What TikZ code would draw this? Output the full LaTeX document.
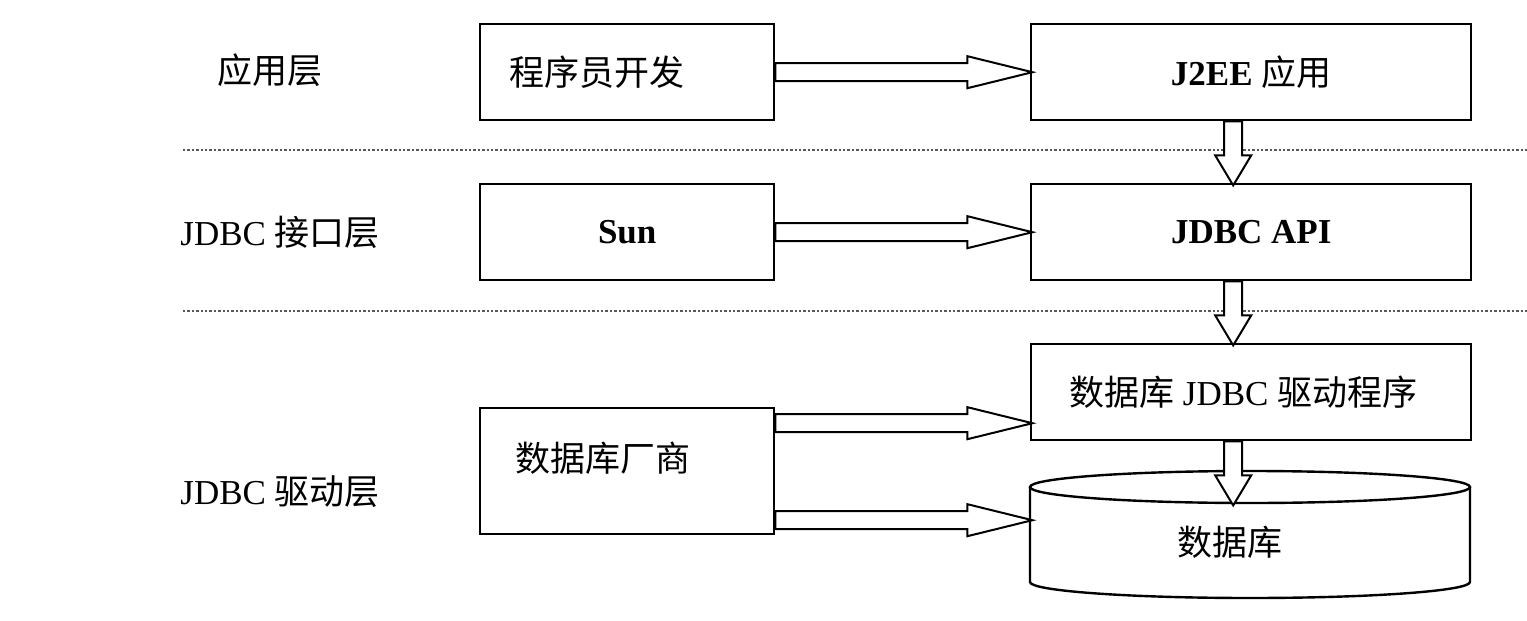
\documentclass[tikz,border=0pt]{standalone}
\usepackage{fontspec}
\usetikzlibrary{calc}
\setmainfont{Liberation Serif}
\newfontfamily\cjk{Noto Sans CJK SC}
\begin{document}
\begin{tikzpicture}[x=0.5pt,y=-0.5pt,
  box/.style={draw,line width=1.2pt,fill=white,minimum width=147pt,minimum height=48pt,anchor=north west,inner sep=0pt,font=\fontsize{17.5}{19}\selectfont},
  bigbox/.style={box,minimum width=220pt},
  lbl/.style={font=\fontsize{17.5}{19}\selectfont,anchor=west,inner sep=0pt},
  blk/.style={draw,line width=1pt,fill=white,line join=miter},
  sep/.style={densely dotted,line width=1.2pt,gray!70!black}]
\useasboundingbox[fill=white] (0,0) rectangle (1527,621);
\draw[sep] (183,150) -- (1527,150);
\draw[sep] (183,311) -- (1527,311);
\node[lbl] (l1) at (217,70) {\cjk 应用层};
\node[lbl] (l2) at (180,232) {JDBC {\cjk 接口层}};
\node[lbl] (l3) at (180,492) {JDBC {\cjk 驱动层}};
\node[box] (dev) at (479,23) {\cjk 程序员开发\hspace*{30pt}};
\node[bigbox] (j2ee) at (1030,23) {\textbf{J2EE} {\cjk 应用}};
\node[box] (sun) at (479,183) {\textbf{Sun}};
\node[bigbox] (api) at (1030,183) {\textbf{JDBC API}};
\node[bigbox] (drv) at (1030,343) {{\cjk 数据库} JDBC {\cjk 驱动程序}\hspace*{8pt}};
\node[box,minimum height=63pt] (ven) at (479,407) {};
\node[lbl] (ventext) at (515,458) {\cjk 数据库厂商};
% cylinder
\draw[line width=1.2pt,fill=white] (1030,487) -- (1030,582) arc[start angle=180,end angle=0,x radius=220,y radius=16] -- (1470,487);
\draw[line width=1.2pt,fill=white] (1250,487) ellipse[x radius=220,y radius=16];
\node[lbl,anchor=center] (db) at (1230,542) {\cjk 数据库};
% horizontal arrows
\foreach \s/\e/\dy in {dev/j2ee/0, sun/api/0, ven/drv/-48, ven/db/49}{
  \coordinate (S) at ($(\s.east)+(0,\dy)$);
  \draw[blk] (S) ++(0,-9) -- ++(192,0) -- ++(0,-7) -- ++(65,16) -- ++(-65,16) -- ++(0,-7) -- ++(-192,0) -- cycle;
}
% vertical arrows
\foreach \s in {j2ee,api,drv}{
  \coordinate (S) at ($(\s.south)+(-18,0)$);
  \draw[blk] (S) ++(-9,0) -- ++(0,34) -- ++(-9,0) -- ++(18,30) -- ++(18,-30) -- ++(-9,0) -- ++(0,-34) -- cycle;
}
\end{tikzpicture}
\end{document}
